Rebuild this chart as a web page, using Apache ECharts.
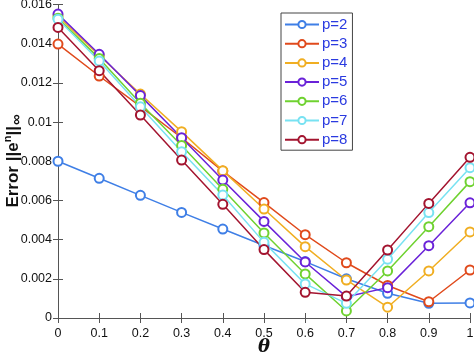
<!DOCTYPE html>
<html>
<head>
<meta charset="utf-8">
<script src="https://cdn.jsdelivr.net/npm/echarts@6/dist/echarts.min.js"></script>
<style>
  html, body { margin: 0; padding: 0; background: #fff; }
  #chart { width: 474px; height: 354px; }
</style>
</head>
<body>
<div id="chart"></div>
<script>
const theta = [0, 0.1, 0.2, 0.3, 0.4, 0.5, 0.6, 0.7, 0.8, 0.9, 1];
const p2 = [0.0080, 0.00713, 0.00626, 0.00539, 0.00454, 0.0037, 0.00288, 0.0020, 0.00126, 0.00075, 0.00077];
const p3 = [0.01398, 0.01235, 0.0108, 0.0092, 0.0075, 0.00589, 0.00425, 0.00282, 0.00166, 0.00083, 0.00245];
const p4 = [0.0154, 0.0134, 0.01143, 0.00951, 0.00752, 0.00556, 0.00364, 0.00194, 0.00055, 0.0024, 0.00439];
const p5 = [0.01551, 0.01346, 0.01135, 0.0092, 0.00704, 0.00493, 0.00286, 0.00109, 0.00155, 0.00369, 0.00588];
const p6 = [0.0153, 0.01325, 0.01096, 0.0088, 0.00657, 0.00434, 0.00225, 0.00036, 0.0024, 0.00466, 0.00696];
const p7 = [0.01525, 0.01312, 0.01078, 0.00849, 0.00628, 0.00386, 0.00174, 0.00075, 0.003, 0.00538, 0.00767];
const p8 = [0.01483, 0.01262, 0.01036, 0.00806, 0.0058, 0.00349, 0.00131, 0.00112, 0.00347, 0.00585, 0.0082];

const seriesNames = ["p=2", "p=3", "p=4", "p=5", "p=6", "p=7", "p=8"];
const seriesData = [p2, p3, p4, p5, p6, p7, p8];
const colors = ["#3f7fe6", "#e04a1c", "#f0ae22", "#6a22d8", "#6fd230", "#78e2f2", "#a3142f"];

const axisColor = "#555";
const font = "Liberation Sans, Arial, Helvetica, sans-serif";

const chart = echarts.init(document.getElementById("chart"), null, { renderer: "canvas" });

const hiddenAxis = {
  axisLine: { show: true, lineStyle: { color: axisColor, width: 1 } },
  axisTick: { show: true, inside: true, length: 5, lineStyle: { color: axisColor } },
  axisLabel: { show: false },
  splitLine: { show: false },
};

const option = {
  animation: false,
  color: colors,
  grid: { left: 58, right: 4, top: 4.5, bottom: 36, containLabel: false, outerBoundsMode: "none" },
  // y axis title drawn as rotated rich text (superscript n, subscript infinity)
  graphic: [
    {
      type: "text",
      x: 13,
      y: 161,
      rotation: Math.PI / 2,
      style: {
        text: "{b|Error ||e}{sup|n}{b|||}{sub|∞}",
        align: "center",
        verticalAlign: "middle",
        rich: {
          b: { fontSize: 17, fontWeight: "bold", fontFamily: font, fill: "#111", lineHeight: 22 },
          sup: { fontSize: 11, fontWeight: "bold", fontFamily: font, fill: "#111", verticalAlign: "top", lineHeight: 22, padding: [0, 0, 7, 0] },
          sub: { fontSize: 15, fontWeight: "bold", fontFamily: font, fill: "#111", verticalAlign: "bottom", lineHeight: 22, padding: [7, 0, 0, 1] },
        },
      },
    },
  ],
  legend: {
    orient: "vertical",
    left: 281,
    top: 13,
    itemWidth: 34,
    itemHeight: 9,
    itemGap: 4.2,
    padding: [4, 5, 3, 3],
    borderColor: "#444",
    borderWidth: 1,
    backgroundColor: "#fff",
    textStyle: { color: "#2a3ae0", fontSize: 15, lineHeight: 14, fontFamily: font, padding: [0, 0, 0, -2] },
    data: seriesNames,
  },
  xAxis: [
    {
      type: "value",
      min: 0,
      max: 1,
      interval: 0.1,
      name: "θ",
      nameLocation: "middle",
      nameGap: 20,
      nameMoveOverlap: false,
      nameTextStyle: { fontSize: 18, fontWeight: "bold", fontStyle: "italic", color: "#111", fontFamily: "DejaVu Serif, serif" },
      axisLine: { show: true, lineStyle: { color: axisColor, width: 1 } },
      axisTick: { show: true, inside: true, length: 5, lineStyle: { color: axisColor } },
      axisLabel: { color: "#111", fontSize: 12.5, fontFamily: font, margin: 9 },
      splitLine: { show: false },
    },
    Object.assign({ type: "value", min: 0, max: 1, interval: 0.1, position: "top" }, hiddenAxis),
  ],
  yAxis: [
    {
      type: "value",
      min: 0,
      max: 0.016,
      interval: 0.002,
      axisLine: { show: true, lineStyle: { color: axisColor, width: 1 } },
      axisTick: { show: true, inside: true, length: 5, lineStyle: { color: axisColor } },
      axisLabel: { color: "#111", fontSize: 12.5, fontFamily: font, margin: 6 },
      splitLine: { show: false },
    },
    Object.assign({ type: "value", min: 0, max: 0.016, interval: 0.002, position: "right" }, hiddenAxis),
  ],
  series: seriesNames.map((name, i) => ({
    name: name,
    type: "line",
    data: theta.map((t, j) => [t, seriesData[i][j]]),
    symbol: "emptyCircle",
    symbolSize: 9,
    showAllSymbol: true,
    lineStyle: { width: 1.5, color: colors[i] },
    itemStyle: { color: colors[i], borderColor: colors[i], borderWidth: 1.3 },
  })),
};

chart.setOption(option);
</script>
</body>
</html>
